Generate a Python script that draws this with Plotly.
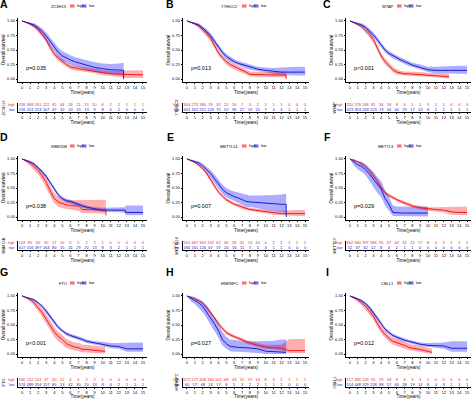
import plotly.graph_objects as go

# ---------------- data ----------------
GENES = ["ZC3H13", "YTHDC2", "WTAP", "RBM15B", "METTL14", "METTL3", "FTO", "HNRNPC", "CBLL1"]
LETTERS = ["A", "B", "C", "D", "E", "F", "G", "H", "I"]
PVALS = ["p=0.035", "p=0.013", "p<0.001", "p=0.038", "p=0.007", "p=0.029", "p<0.001", "p=0.027", "p=0.012"]
YEARS = list(range(16))
Y_TICKS = [0, 0.25, 0.5, 0.75, 1.0]
Y_TICK_TEXT = ["0.00", "0.25", "0.50", "0.75", "1.00"]
T_EARLY = [0, 0.5, 1, 1.5, 2, 2.5, 3, 3.5, 4, 4.5, 5, 5.5, 6, 6.5, 7, 7.5, 8]

# ZC3H13
zc3h13_high_t = T_EARLY + [9, 10, 11, 12, 13, 14, 15]
zc3h13_high_s = [1.0, 0.98, 0.95, 0.91, 0.85, 0.77, 0.67, 0.54, 0.43, 0.36, 0.30, 0.25, 0.21, 0.19, 0.18, 0.165, 0.155, 0.14, 0.11, 0.09, 0.085, 0.075, 0.075, 0.075]
zc3h13_high_lo = [1.0, 0.97, 0.93, 0.88, 0.81, 0.73, 0.63, 0.50, 0.39, 0.32, 0.26, 0.21, 0.17, 0.15, 0.14, 0.125, 0.115, 0.10, 0.07, 0.05, 0.04, 0.02, 0.02, 0.02]
zc3h13_high_hi = [1.0, 0.99, 0.97, 0.94, 0.89, 0.81, 0.71, 0.58, 0.47, 0.40, 0.34, 0.29, 0.25, 0.23, 0.22, 0.21, 0.20, 0.185, 0.155, 0.14, 0.14, 0.15, 0.15, 0.15]
zc3h13_low_t = T_EARLY + [9, 10, 11, 12, 12.6, 12.6]
zc3h13_low_s = [1.0, 0.98, 0.96, 0.93, 0.88, 0.82, 0.74, 0.64, 0.55, 0.46, 0.40, 0.36, 0.33, 0.30, 0.28, 0.26, 0.24, 0.20, 0.18, 0.16, 0.155, 0.15, 0.0]
zc3h13_low_lo = [1.0, 0.96, 0.93, 0.89, 0.83, 0.76, 0.67, 0.57, 0.47, 0.38, 0.32, 0.28, 0.25, 0.22, 0.20, 0.18, 0.16, 0.12, 0.10, 0.08, 0.07, 0.06, 0.06]
zc3h13_low_hi = [1.0, 0.99, 0.98, 0.96, 0.92, 0.87, 0.80, 0.71, 0.62, 0.54, 0.48, 0.44, 0.41, 0.38, 0.36, 0.34, 0.32, 0.29, 0.27, 0.26, 0.27, 0.28, 0.28]
zc3h13_high_n = [418, 368, 261, 122, 65, 44, 28, 21, 13, 10, 6, 2, 2, 1, 1, 1]
zc3h13_low_n = [216, 201, 153, 107, 47, 32, 20, 15, 13, 9, 8, 4, 2, 0, 0, 0]

# YTHDC2
ythdc2_high_t = T_EARLY + [9, 10, 11, 12, 12.6, 12.6]
ythdc2_high_s = [1.0, 0.98, 0.95, 0.91, 0.85, 0.78, 0.70, 0.58, 0.45, 0.37, 0.30, 0.25, 0.22, 0.18, 0.15, 0.12, 0.08, 0.075, 0.075, 0.07, 0.07, 0.07, 0.0]
ythdc2_high_lo = [1.0, 0.97, 0.93, 0.88, 0.81, 0.73, 0.65, 0.53, 0.40, 0.32, 0.25, 0.20, 0.17, 0.13, 0.10, 0.08, 0.05, 0.04, 0.04, 0.03, 0.03, 0.03, 0.03]
ythdc2_high_hi = [1.0, 0.99, 0.97, 0.94, 0.89, 0.83, 0.75, 0.63, 0.50, 0.42, 0.35, 0.30, 0.27, 0.23, 0.20, 0.17, 0.13, 0.12, 0.12, 0.12, 0.13, 0.13, 0.13]
ythdc2_low_t = T_EARLY + [9, 10, 11, 12, 13, 14, 15]
ythdc2_low_s = [1.0, 0.98, 0.96, 0.93, 0.88, 0.82, 0.75, 0.65, 0.55, 0.46, 0.39, 0.34, 0.30, 0.27, 0.25, 0.22, 0.20, 0.17, 0.15, 0.13, 0.12, 0.12, 0.12, 0.12]
ythdc2_low_lo = [1.0, 0.97, 0.94, 0.90, 0.85, 0.78, 0.71, 0.61, 0.51, 0.42, 0.35, 0.30, 0.26, 0.23, 0.21, 0.18, 0.16, 0.13, 0.11, 0.09, 0.07, 0.06, 0.06, 0.06]
ythdc2_low_hi = [1.0, 0.99, 0.98, 0.96, 0.91, 0.86, 0.79, 0.69, 0.59, 0.50, 0.43, 0.38, 0.34, 0.31, 0.29, 0.26, 0.24, 0.21, 0.20, 0.19, 0.20, 0.21, 0.21, 0.21]
ythdc2_high_n = [303, 273, 186, 76, 32, 22, 16, 7, 3, 2, 2, 1, 1, 0, 0, 0]
ythdc2_low_n = [401, 352, 251, 126, 75, 52, 36, 27, 19, 15, 7, 4, 3, 1, 1, 1]

# WTAP
wtap_high_t = T_EARLY + [9, 10, 11, 12, 12.7]
wtap_high_s = [1.0, 0.97, 0.94, 0.90, 0.84, 0.77, 0.68, 0.55, 0.40, 0.30, 0.22, 0.16, 0.12, 0.10, 0.09, 0.09, 0.085, 0.08, 0.07, 0.06, 0.05, 0.04]
wtap_high_lo = [1.0, 0.96, 0.92, 0.87, 0.80, 0.72, 0.63, 0.50, 0.35, 0.25, 0.18, 0.12, 0.08, 0.07, 0.06, 0.06, 0.05, 0.05, 0.04, 0.03, 0.02, 0.01]
wtap_high_hi = [1.0, 0.98, 0.96, 0.93, 0.88, 0.82, 0.73, 0.60, 0.45, 0.35, 0.27, 0.21, 0.17, 0.14, 0.13, 0.13, 0.12, 0.12, 0.11, 0.10, 0.10, 0.09]
wtap_low_t = T_EARLY + [9, 10, 11, 12, 13, 14, 15]
wtap_low_s = [1.0, 0.98, 0.96, 0.93, 0.89, 0.83, 0.76, 0.68, 0.58, 0.50, 0.44, 0.40, 0.37, 0.33, 0.30, 0.27, 0.24, 0.20, 0.16, 0.15, 0.15, 0.15, 0.15, 0.15]
wtap_low_lo = [1.0, 0.97, 0.94, 0.90, 0.86, 0.79, 0.72, 0.64, 0.54, 0.46, 0.40, 0.36, 0.33, 0.29, 0.26, 0.23, 0.20, 0.16, 0.12, 0.10, 0.09, 0.09, 0.09, 0.09]
wtap_low_hi = [1.0, 0.99, 0.98, 0.96, 0.92, 0.87, 0.80, 0.72, 0.62, 0.54, 0.48, 0.44, 0.41, 0.37, 0.34, 0.31, 0.28, 0.25, 0.21, 0.21, 0.22, 0.23, 0.23, 0.23]
wtap_high_n = [320, 278, 184, 81, 34, 18, 8, 6, 5, 5, 3, 1, 1, 0, 0, 0]
wtap_low_n = [423, 353, 263, 123, 73, 56, 40, 29, 17, 13, 6, 2, 2, 1, 1, 1]

# RBM15B
rbm15b_high_t = T_EARLY + [9, 10, 10.4, 10.4]
rbm15b_high_s = [1.0, 0.97, 0.93, 0.87, 0.80, 0.71, 0.60, 0.45, 0.32, 0.26, 0.23, 0.21, 0.20, 0.20, 0.19, 0.13, 0.13, 0.12, 0.12, 0.12, 0.03]
rbm15b_high_lo = [1.0, 0.94, 0.88, 0.81, 0.73, 0.63, 0.51, 0.36, 0.24, 0.18, 0.15, 0.13, 0.12, 0.12, 0.11, 0.07, 0.07, 0.06, 0.06, 0.06, 0.06]
rbm15b_high_hi = [1.0, 0.99, 0.97, 0.93, 0.87, 0.79, 0.69, 0.54, 0.41, 0.35, 0.32, 0.30, 0.29, 0.29, 0.29, 0.30, 0.30, 0.30, 0.30, 0.30, 0.30]
rbm15b_low_t = T_EARLY + [9, 10, 11, 12, 12.8, 12.8, 13, 14, 15]
rbm15b_low_s = [1.0, 0.98, 0.95, 0.91, 0.85, 0.78, 0.70, 0.60, 0.48, 0.38, 0.32, 0.28, 0.27, 0.24, 0.22, 0.19, 0.17, 0.14, 0.12, 0.12, 0.12, 0.12, 0.08, 0.08, 0.08, 0.08]
rbm15b_low_lo = [1.0, 0.97, 0.94, 0.89, 0.83, 0.75, 0.67, 0.57, 0.45, 0.35, 0.29, 0.25, 0.24, 0.21, 0.19, 0.16, 0.14, 0.11, 0.09, 0.08, 0.08, 0.08, 0.03, 0.03, 0.03, 0.03]
rbm15b_low_hi = [1.0, 0.99, 0.96, 0.93, 0.87, 0.81, 0.73, 0.63, 0.51, 0.41, 0.35, 0.31, 0.30, 0.27, 0.25, 0.22, 0.20, 0.17, 0.16, 0.16, 0.17, 0.17, 0.20, 0.20, 0.20, 0.20]
rbm15b_high_n = [124, 85, 62, 30, 17, 10, 5, 5, 2, 2, 1, 0, 0, 0, 0, 0]
rbm15b_low_n = [617, 556, 397, 164, 80, 55, 41, 29, 20, 13, 8, 3, 2, 1, 1, 1]

# METTL14
mettl14_high_t = T_EARLY + [9, 10, 11, 12, 13, 14, 15]
mettl14_high_s = [1.0, 0.97, 0.94, 0.89, 0.83, 0.75, 0.65, 0.53, 0.43, 0.36, 0.30, 0.26, 0.22, 0.20, 0.17, 0.15, 0.13, 0.11, 0.09, 0.07, 0.06, 0.06, 0.06, 0.06]
mettl14_high_lo = [1.0, 0.96, 0.93, 0.87, 0.81, 0.72, 0.62, 0.50, 0.40, 0.33, 0.27, 0.23, 0.19, 0.17, 0.14, 0.12, 0.10, 0.08, 0.06, 0.04, 0.03, 0.02, 0.02, 0.02]
mettl14_high_hi = [1.0, 0.98, 0.95, 0.91, 0.85, 0.78, 0.68, 0.56, 0.46, 0.39, 0.33, 0.29, 0.25, 0.23, 0.20, 0.18, 0.16, 0.14, 0.12, 0.11, 0.11, 0.12, 0.12, 0.12]
mettl14_low_t = T_EARLY + [9, 10, 11, 12, 12.6, 12.6]
mettl14_low_s = [1.0, 0.98, 0.96, 0.93, 0.88, 0.82, 0.75, 0.66, 0.56, 0.48, 0.42, 0.38, 0.35, 0.33, 0.30, 0.27, 0.26, 0.25, 0.23, 0.23, 0.22, 0.22, 0.0]
mettl14_low_lo = [1.0, 0.96, 0.93, 0.89, 0.83, 0.76, 0.68, 0.58, 0.48, 0.40, 0.34, 0.30, 0.27, 0.24, 0.21, 0.18, 0.17, 0.15, 0.12, 0.11, 0.09, 0.08, 0.08]
mettl14_low_hi = [1.0, 0.99, 0.98, 0.96, 0.92, 0.87, 0.81, 0.73, 0.64, 0.56, 0.50, 0.46, 0.44, 0.42, 0.40, 0.38, 0.37, 0.37, 0.37, 0.38, 0.39, 0.40, 0.40]
mettl14_high_n = [552, 467, 316, 132, 62, 46, 28, 21, 13, 10, 4, 2, 2, 1, 1, 1]
mettl14_low_n = [184, 161, 126, 67, 37, 20, 16, 11, 7, 5, 3, 1, 1, 0, 0, 0]

# METTL3
mettl3_high_t = T_EARLY + [9, 10, 11, 12, 13, 14, 15]
mettl3_high_s = [1.0, 0.98, 0.95, 0.92, 0.87, 0.80, 0.72, 0.62, 0.50, 0.42, 0.37, 0.33, 0.30, 0.27, 0.24, 0.22, 0.19, 0.16, 0.14, 0.13, 0.12, 0.09, 0.08, 0.08]
mettl3_high_lo = [1.0, 0.97, 0.94, 0.90, 0.85, 0.77, 0.69, 0.59, 0.47, 0.39, 0.34, 0.30, 0.27, 0.24, 0.21, 0.19, 0.16, 0.13, 0.11, 0.09, 0.08, 0.04, 0.03, 0.03]
mettl3_high_hi = [1.0, 0.99, 0.96, 0.94, 0.89, 0.83, 0.75, 0.65, 0.53, 0.45, 0.40, 0.36, 0.33, 0.30, 0.27, 0.25, 0.22, 0.19, 0.17, 0.17, 0.17, 0.18, 0.18, 0.18]
mettl3_low_t = T_EARLY + [9, 10]
mettl3_low_s = [1.0, 0.95, 0.90, 0.87, 0.82, 0.74, 0.65, 0.55, 0.48, 0.32, 0.22, 0.08, 0.07, 0.07, 0.07, 0.07, 0.07, 0.07, 0.07]
mettl3_low_lo = [1.0, 0.89, 0.82, 0.78, 0.72, 0.62, 0.52, 0.42, 0.35, 0.20, 0.11, 0.02, 0.01, 0.01, 0.01, 0.01, 0.01, 0.01, 0.01]
mettl3_low_hi = [1.0, 1.0, 0.97, 0.95, 0.91, 0.85, 0.78, 0.69, 0.62, 0.46, 0.35, 0.20, 0.18, 0.18, 0.18, 0.18, 0.18, 0.18, 0.18]
mettl3_high_n = [662, 560, 397, 186, 95, 67, 44, 32, 21, 17, 8, 4, 3, 1, 1, 1]
mettl3_low_n = [52, 37, 32, 12, 8, 3, 2, 1, 1, 0, 0, 0, 0, 0, 0, 0]

# FTO
fto_high_t = T_EARLY + [9, 10, 10.3]
fto_high_s = [1.0, 0.97, 0.94, 0.88, 0.80, 0.71, 0.60, 0.48, 0.38, 0.30, 0.25, 0.18, 0.15, 0.12, 0.11, 0.08, 0.08, 0.06, 0.05, 0.05]
fto_high_lo = [1.0, 0.95, 0.90, 0.83, 0.74, 0.64, 0.52, 0.40, 0.30, 0.22, 0.17, 0.11, 0.08, 0.06, 0.05, 0.03, 0.03, 0.02, 0.01, 0.01]
fto_high_hi = [1.0, 0.99, 0.97, 0.93, 0.86, 0.78, 0.68, 0.56, 0.46, 0.38, 0.33, 0.26, 0.23, 0.20, 0.19, 0.16, 0.16, 0.14, 0.13, 0.13]
fto_low_t = T_EARLY + [9, 10, 11, 12, 13, 14, 15]
fto_low_s = [1.0, 0.98, 0.96, 0.93, 0.88, 0.82, 0.74, 0.64, 0.54, 0.46, 0.40, 0.35, 0.32, 0.30, 0.27, 0.25, 0.22, 0.19, 0.17, 0.14, 0.13, 0.09, 0.09, 0.09]
fto_low_lo = [1.0, 0.97, 0.95, 0.91, 0.86, 0.79, 0.71, 0.61, 0.51, 0.43, 0.37, 0.32, 0.29, 0.27, 0.24, 0.22, 0.19, 0.16, 0.14, 0.10, 0.09, 0.04, 0.04, 0.04]
fto_low_hi = [1.0, 0.99, 0.97, 0.95, 0.90, 0.85, 0.77, 0.67, 0.57, 0.49, 0.43, 0.38, 0.35, 0.33, 0.30, 0.28, 0.25, 0.22, 0.21, 0.19, 0.19, 0.20, 0.20, 0.20]
fto_high_n = [160, 152, 101, 37, 20, 12, 4, 4, 2, 2, 1, 0, 0, 0, 0, 0]
fto_low_n = [574, 489, 354, 157, 80, 53, 42, 30, 20, 13, 8, 4, 2, 1, 1, 1]

# HNRNPC
hnrnpc_high_t = T_EARLY + [9, 10, 11, 12, 13, 14, 15]
hnrnpc_high_s = [1.0, 0.98, 0.95, 0.92, 0.87, 0.80, 0.72, 0.62, 0.52, 0.44, 0.37, 0.33, 0.30, 0.27, 0.25, 0.21, 0.19, 0.15, 0.12, 0.11, 0.10, 0.06, 0.06, 0.06]
hnrnpc_high_lo = [1.0, 0.97, 0.94, 0.90, 0.85, 0.77, 0.69, 0.59, 0.49, 0.41, 0.34, 0.30, 0.27, 0.24, 0.22, 0.18, 0.16, 0.12, 0.09, 0.07, 0.06, 0.02, 0.02, 0.02]
hnrnpc_high_hi = [1.0, 0.99, 0.96, 0.94, 0.89, 0.83, 0.75, 0.65, 0.55, 0.47, 0.40, 0.36, 0.33, 0.30, 0.28, 0.24, 0.22, 0.19, 0.16, 0.16, 0.16, 0.26, 0.26, 0.26]
hnrnpc_low_t = T_EARLY + [9, 10, 11, 12, 12.6]
hnrnpc_low_s = [1.0, 0.96, 0.93, 0.88, 0.82, 0.73, 0.62, 0.52, 0.40, 0.25, 0.18, 0.13, 0.12, 0.12, 0.11, 0.11, 0.10, 0.09, 0.05, 0.04, 0.03, 0.03]
hnrnpc_low_lo = [1.0, 0.91, 0.86, 0.79, 0.72, 0.62, 0.50, 0.40, 0.28, 0.15, 0.09, 0.05, 0.04, 0.04, 0.04, 0.04, 0.03, 0.02, 0.0, 0.0, 0.0, 0.0]
hnrnpc_low_hi = [1.0, 1.0, 0.98, 0.95, 0.91, 0.84, 0.74, 0.65, 0.53, 0.38, 0.30, 0.25, 0.24, 0.24, 0.23, 0.23, 0.22, 0.22, 0.22, 0.23, 0.25, 0.25]
hnrnpc_high_n = [672, 577, 408, 180, 101, 68, 43, 31, 19, 16, 8, 3, 2, 1, 1, 1]
hnrnpc_low_n = [60, 57, 48, 24, 17, 8, 5, 3, 2, 2, 1, 1, 1, 0, 0, 0]

# CBLL1
cbll1_high_t = T_EARLY + [9, 10, 10.5]
cbll1_high_s = [1.0, 0.97, 0.93, 0.88, 0.82, 0.74, 0.65, 0.53, 0.42, 0.34, 0.27, 0.22, 0.20, 0.18, 0.15, 0.12, 0.10, 0.08, 0.05, 0.03]
cbll1_high_lo = [1.0, 0.95, 0.90, 0.84, 0.77, 0.68, 0.59, 0.47, 0.36, 0.28, 0.21, 0.16, 0.14, 0.12, 0.09, 0.07, 0.05, 0.03, 0.01, 0.0]
cbll1_high_hi = [1.0, 0.99, 0.96, 0.92, 0.87, 0.80, 0.71, 0.59, 0.48, 0.40, 0.33, 0.28, 0.26, 0.24, 0.21, 0.18, 0.16, 0.14, 0.11, 0.09]
cbll1_low_t = T_EARLY + [9, 10, 11, 12, 13, 14, 15]
cbll1_low_s = [1.0, 0.98, 0.95, 0.92, 0.87, 0.80, 0.72, 0.62, 0.52, 0.43, 0.37, 0.32, 0.29, 0.26, 0.24, 0.22, 0.20, 0.17, 0.15, 0.14, 0.14, 0.10, 0.10, 0.10]
cbll1_low_lo = [1.0, 0.97, 0.94, 0.90, 0.85, 0.77, 0.69, 0.59, 0.49, 0.40, 0.34, 0.29, 0.26, 0.23, 0.21, 0.19, 0.17, 0.14, 0.12, 0.10, 0.09, 0.04, 0.04, 0.04]
cbll1_low_hi = [1.0, 0.99, 0.96, 0.94, 0.89, 0.83, 0.75, 0.65, 0.55, 0.46, 0.40, 0.35, 0.32, 0.29, 0.27, 0.25, 0.23, 0.20, 0.19, 0.19, 0.20, 0.22, 0.22, 0.22]
cbll1_high_n = [217, 189, 129, 55, 29, 18, 8, 6, 3, 3, 1, 0, 0, 0, 0, 0]
cbll1_low_n = [514, 448, 329, 158, 88, 57, 40, 28, 19, 14, 8, 4, 3, 1, 1, 1]

PANELS = [
    ((zc3h13_high_t, zc3h13_high_s, zc3h13_high_lo, zc3h13_high_hi), (zc3h13_low_t, zc3h13_low_s, zc3h13_low_lo, zc3h13_low_hi), zc3h13_high_n, zc3h13_low_n),
    ((ythdc2_high_t, ythdc2_high_s, ythdc2_high_lo, ythdc2_high_hi), (ythdc2_low_t, ythdc2_low_s, ythdc2_low_lo, ythdc2_low_hi), ythdc2_high_n, ythdc2_low_n),
    ((wtap_high_t, wtap_high_s, wtap_high_lo, wtap_high_hi), (wtap_low_t, wtap_low_s, wtap_low_lo, wtap_low_hi), wtap_high_n, wtap_low_n),
    ((rbm15b_high_t, rbm15b_high_s, rbm15b_high_lo, rbm15b_high_hi), (rbm15b_low_t, rbm15b_low_s, rbm15b_low_lo, rbm15b_low_hi), rbm15b_high_n, rbm15b_low_n),
    ((mettl14_high_t, mettl14_high_s, mettl14_high_lo, mettl14_high_hi), (mettl14_low_t, mettl14_low_s, mettl14_low_lo, mettl14_low_hi), mettl14_high_n, mettl14_low_n),
    ((mettl3_high_t, mettl3_high_s, mettl3_high_lo, mettl3_high_hi), (mettl3_low_t, mettl3_low_s, mettl3_low_lo, mettl3_low_hi), mettl3_high_n, mettl3_low_n),
    ((fto_high_t, fto_high_s, fto_high_lo, fto_high_hi), (fto_low_t, fto_low_s, fto_low_lo, fto_low_hi), fto_high_n, fto_low_n),
    ((hnrnpc_high_t, hnrnpc_high_s, hnrnpc_high_lo, hnrnpc_high_hi), (hnrnpc_low_t, hnrnpc_low_s, hnrnpc_low_lo, hnrnpc_low_hi), hnrnpc_high_n, hnrnpc_low_n),
    ((cbll1_high_t, cbll1_high_s, cbll1_high_lo, cbll1_high_hi), (cbll1_low_t, cbll1_low_s, cbll1_low_lo, cbll1_low_hi), cbll1_high_n, cbll1_low_n),
]

# ---------------- style / layout ----------------
W, H = 474, 399
FONT = "Liberation Sans, Arial, sans-serif"
RED, BLUE = "#EE1C1C", "#1C1CCC"
RED_FILL, BLUE_FILL = "rgba(255,0,0,0.32)", "rgba(0,0,255,0.32)"

COL_L = [18, 183, 346]
COL_R = [147, 309, 471]
ROW_OFF = [0, 138, 275]
SURV_TOP, SURV_BOT = 18, 82
TAB_TOP, TAB_BOT = 103, 112
LETTER_X = [4, 170, 327]
LETTER_Y = [4, 137, 272]
LEG_A = [70, 242, 397]
LEG_Y = [6, 146, 283]
GENE_X = [3, 176, 334]


def fx(p):
    return p / W


def fy(p):
    return 1 - p / H


def axname(kind, n):
    return f"{kind}axis" if n == 1 else f"{kind}axis{n}"


def axref(kind, n):
    return kind if n == 1 else f"{kind}{n}"


fig = go.Figure()
layout = dict(
    width=W, height=H, margin=dict(l=0, r=0, t=0, b=0),
    paper_bgcolor="white", plot_bgcolor="white", showlegend=False,
    font=dict(family=FONT, size=4, color="black"),
)
annotations = []
shapes = []

for i, (hi_c, lo_c, hi_n, lo_n) in enumerate(PANELS):
    r, c = divmod(i, 3)
    sa, ta = 2 * i + 1, 2 * i + 2
    off = ROW_OFF[r]
    xs, ys = axref("x", sa), axref("y", sa)
    xt, yt = axref("x", ta), axref("y", ta)

    for (t, s, lo, hi), fillc in ((hi_c, RED_FILL), (lo_c, BLUE_FILL)):
        fig.add_trace(go.Scatter(x=list(t) + list(t)[::-1], y=list(hi) + list(lo)[::-1],
                                 fill="toself", fillcolor=fillc, line=dict(width=0),
                                 mode="lines", hoverinfo="skip", xaxis=xs, yaxis=ys))
    for (t, s, lo, hi), col in ((hi_c, RED), (lo_c, BLUE)):
        fig.add_trace(go.Scatter(x=t, y=s, mode="lines", line=dict(color=col, width=1),
                                 xaxis=xs, yaxis=ys))

    fig.add_trace(go.Scatter(x=YEARS, y=[2] * len(YEARS), mode="text", text=[str(v) for v in hi_n],
                             textfont=dict(color=RED, size=4, family=FONT), xaxis=xt, yaxis=yt,
                             cliponaxis=False))
    fig.add_trace(go.Scatter(x=YEARS, y=[1] * len(YEARS), mode="text", text=[str(v) for v in lo_n],
                             textfont=dict(color=BLUE, size=4, family=FONT), xaxis=xt, yaxis=yt,
                             cliponaxis=False))

    common_x = dict(range=[-0.5, 15.5], tickmode="array", tickvals=YEARS, ticktext=[str(v) for v in YEARS],
                    showline=True, linecolor="black", linewidth=0.6, ticks="outside", ticklen=1.5,
                    tickwidth=0.5, tickcolor="black", tickfont=dict(size=4), showgrid=False, zeroline=False,
                    title=dict(text="Time(years)", font=dict(size=4.5), standoff=0), automargin=False)
    layout[axname("x", sa)] = dict(common_x, domain=[fx(COL_L[c]), fx(COL_R[c])], anchor=ys)
    layout[axname("y", sa)] = dict(domain=[fy(SURV_BOT + off), fy(SURV_TOP + off)], anchor=xs,
                                   range=[-0.05, 1.05], tickmode="array", tickvals=Y_TICKS, ticktext=Y_TICK_TEXT,
                                   showline=True, linecolor="black", linewidth=0.6, ticks="outside", ticklen=1.5,
                                   tickwidth=0.5, tickcolor="black", tickfont=dict(size=4), showgrid=False,
                                   zeroline=False, automargin=False,
                                   title=dict(text="Overall survival", font=dict(size=4.5), standoff=1))
    layout[axname("x", ta)] = dict(common_x, domain=[fx(COL_L[c]), fx(COL_R[c])], anchor=yt)
    layout[axname("y", ta)] = dict(domain=[fy(TAB_BOT + off), fy(TAB_TOP + off)], anchor=xt,
                                   range=[0.5, 2.5], showticklabels=False, showline=True, linecolor="black",
                                   linewidth=0.6, showgrid=False, zeroline=False, ticks="")

    annotations.append(dict(text=PVALS[i], x=0.25, y=0.19, xref=xs, yref=ys, xanchor="left",
                            yanchor="middle", showarrow=False, font=dict(size=5.5)))
    annotations.append(dict(text=f"<b>{LETTERS[i]}</b>", x=fx(LETTER_X[c]), y=fy(LETTER_Y[r]),
                            xref="paper", yref="paper", xanchor="center", yanchor="middle",
                            showarrow=False, font=dict(size=10.5)))
    a, ly = LEG_A[c], LEG_Y[r]
    annotations.append(dict(text=GENES[i], x=fx(a - 1.5), y=fy(ly), xref="paper", yref="paper",
                            xanchor="right", yanchor="middle", showarrow=False, font=dict(size=4)))
    for k, (lab, fc, lc) in enumerate((("high", RED_FILL, RED), ("low", BLUE_FILL, BLUE))):
        bx = a + 12 * k
        shapes.append(dict(type="rect", xref="paper", yref="paper", x0=fx(bx), x1=fx(bx + 4.5),
                           y0=fy(ly + 2), y1=fy(ly - 2), fillcolor=fc, line=dict(width=0)))
        shapes.append(dict(type="line", xref="paper", yref="paper", x0=fx(bx), x1=fx(bx + 4.5),
                           y0=fy(ly), y1=fy(ly), line=dict(color=lc, width=0.8)))
        annotations.append(dict(text=lab, x=fx(bx + 5.2), y=fy(ly), xref="paper", yref="paper",
                                xanchor="left", yanchor="middle", showarrow=False, font=dict(size=3.6)))
    for lab, yy, col in (("high", 2, RED), ("low", 1, BLUE)):
        annotations.append(dict(text=lab, x=fx(COL_L[c] - 0.8), y=yy, xref="paper", yref=yt,
                                xanchor="right", yanchor="middle", showarrow=False,
                                font=dict(size=3.4, color=col)))
    annotations.append(dict(text=GENES[i], x=fx(GENE_X[c]), y=fy((TAB_TOP + TAB_BOT) / 2 + off),
                            xref="paper", yref="paper", xanchor="center", yanchor="middle",
                            textangle=-90, showarrow=False, font=dict(size=4)))

layout["annotations"] = annotations
layout["shapes"] = shapes
fig.update_layout(**layout)
fig.write_html("out.html", config={"displayModeBar": False},
               post_script="document.body.style.margin='0';document.body.style.padding='0';"
                           "document.documentElement.style.overflow='hidden';")
